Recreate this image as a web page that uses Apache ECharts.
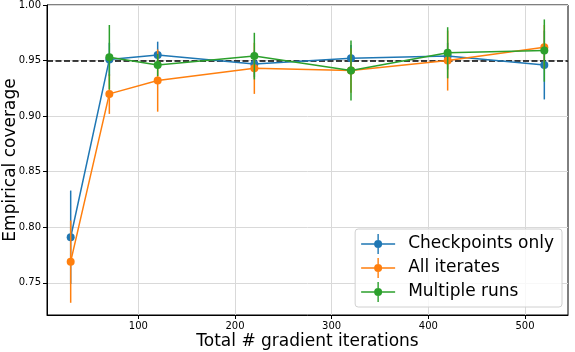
<!DOCTYPE html>
<html>
<head>
<meta charset="utf-8">
<script src="https://cdn.jsdelivr.net/npm/echarts@6/dist/echarts.min.js"></script>
<style>
html, body { margin: 0; padding: 0; background: #fff; }
#main { width: 575px; height: 352px; }
</style>
</head>
<body>
<div id="main"></div>
<script>
var iters = [30, 70, 120, 220, 320, 420, 520];
var checkpoints = [0.791, 0.951, 0.955, 0.947, 0.952, 0.954, 0.946];
var checkpointsErr = [0.042, 0.015, 0.012, 0.012, 0.012, 0.012, 0.031];
var allIterates = [0.769, 0.920, 0.932, 0.943, 0.941, 0.950, 0.962];
var allIteratesErr = [0.037, 0.018, 0.028, 0.023, 0.020, 0.027, 0.020];
var multipleRuns = [null, 0.953, 0.946, 0.954, 0.941, 0.957, 0.959];
var multipleRunsErr = [null, 0.029, 0.010, 0.021, 0.027, 0.023, 0.028];
var xTicks = [100, 200, 300, 400, 500];
var yTicks = [0.75, 0.80, 0.85, 0.90, 0.95, 1.00];
var target = 0.95;

var names = ['Checkpoints only', 'All iterates', 'Multiple runs'];
var colors = ['#1f77b4', '#ff7f0e', '#2ca02c'];
var values = [checkpoints, allIterates, multipleRuns];
var errors = [checkpointsErr, allIteratesErr, multipleRunsErr];

var myChart = echarts.init(document.getElementById('main'));

// legend icon: line + dot + vertical bar, like matplotlib errorbar handles
var errIcon = 'path://M0,9.3h34v1.4h-34z M16.3,0h1.4v20h-1.4z M17,6a4,4 0 1,1 -0.01,0z';

function series() {
    var s = [];
    for (var i = 0; i < names.length; i++) {
        var pts = [], bars = [];
        for (var j = 0; j < iters.length; j++) {
            var v = values[i][j];
            pts.push([iters[j], v]);
            if (v != null) bars.push([iters[j], v, errors[i][j]]);
        }
        s.push({
            type: 'custom',
            name: names[i],
            z: 10 + i * 2,
            silent: true,
            renderItem: function (params, api) {
                var lo = api.coord([api.value(0), api.value(1) - api.value(2)]);
                var hi = api.coord([api.value(0), api.value(1) + api.value(2)]);
                return {
                    type: 'line',
                    shape: { x1: lo[0], y1: lo[1], x2: hi[0], y2: hi[1] },
                    style: { stroke: api.visual('color'), lineWidth: 1.5 }
                };
            },
            itemStyle: { color: colors[i] },
            data: bars
        });
        s.push({
            type: 'line',
            name: names[i],
            z: 11 + i * 2,
            data: pts,
            symbol: 'circle',
            symbolSize: 8,
            showSymbol: true,
            connectNulls: false,
            lineStyle: { width: 1.5, color: colors[i] },
            itemStyle: { color: colors[i] },
            emphasis: { disabled: true },
            markLine: i === 0 ? {
                silent: true,
                symbol: 'none',
                label: { show: false },
                lineStyle: { color: '#000', type: [6, 2.5], width: 1.5 },
                data: [{ yAxis: target }]
            } : undefined
        });
    }
    return s;
}

var option = {
    animation: false,
    textStyle: { fontFamily: 'DejaVu Sans' },
    grid: {
        left: 47, right: 7, top: 5, bottom: 37,
        outerBoundsMode: 'none',
        containLabel: false,
        show: true, borderColor: '#000', borderWidth: 1
    },
    legend: {
        data: names.map(function (n) { return { name: n, icon: errIcon }; }),
        orient: 'vertical',
        right: 13,
        top: 229,
        itemWidth: 34,
        itemHeight: 20,
        itemGap: 4,
        padding: [5, 8, 5, 6],
        backgroundColor: 'rgba(255,255,255,0.8)',
        borderColor: '#d0d0d0',
        borderWidth: 1,
        borderRadius: 3,
        textStyle: { fontSize: 17, color: '#000', fontFamily: 'DejaVu Sans', padding: [0, 0, 0, 8] }
    },
    xAxis: {
        type: 'value',
        min: 5.5,
        max: 544.5,
        name: 'Total # gradient iterations',
        nameLocation: 'middle',
        nameGap: 18,
        nameMoveOverlap: false,
        nameTextStyle: { fontSize: 17, color: '#000' },
        axisLine: { show: true, onZero: false, lineStyle: { color: '#000' } },
        axisTick: { show: true, length: 4, customValues: xTicks, lineStyle: { color: '#000' } },
        axisLabel: { customValues: xTicks, fontSize: 10, color: '#000', margin: 6 },
        splitLine: { show: true, lineStyle: { color: '#d9d9d9', width: 1 } }
    },
    yAxis: {
        type: 'value',
        min: 0.721,
        max: 1.0,
        name: 'Empirical coverage',
        nameLocation: 'middle',
        nameRotate: 90,
        nameGap: 28,
        nameMoveOverlap: false,
        nameTextStyle: { fontSize: 17, color: '#000' },
        axisLine: { show: true, onZero: false, lineStyle: { color: '#000' } },
        axisTick: { show: true, length: 4, customValues: yTicks, lineStyle: { color: '#000' } },
        axisLabel: {
            customValues: yTicks, fontSize: 10, color: '#000', margin: 6,
            formatter: function (v) { return v.toFixed(2); }
        },
        splitLine: { show: true, lineStyle: { color: '#d9d9d9', width: 1 } }
    },
    series: series()
};
myChart.setOption(option, true);

window.onresize = function () { myChart.resize(); };
</script>
</body>
</html>
